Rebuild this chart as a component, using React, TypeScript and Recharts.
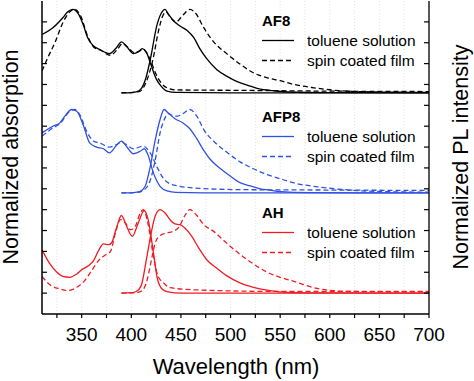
import { CartesianGrid, Line, LineChart, XAxis, YAxis } from "recharts";

type Pt = [number, number];

// panels from top to bottom
const panels = ["AF8", "AFP8", "AH"];
const legendLabels = ["toluene solution", "spin coated film"];
const colors = ["#000000", "#2f52e0", "#ee1c24"];
const offsets = [2.4, 1.2, 0];

const xTicks = [325, 350, 375, 400, 425, 450, 475, 500, 525, 550, 575, 600, 625, 650, 675, 700];
const yTicks = [0, 0.25, 0.5, 0.75, 1, 1.25, 1.5, 1.75, 2, 2.25, 2.5, 2.75, 3, 3.25];

// AF8
const af8AbsTol: Pt[] = [
  [310, 0.7], [321, 0.78], [331, 0.9], [336, 0.97], [341, 1.0], [347, 0.94], [352, 0.8], [356, 0.66],
  [362, 0.56], [368, 0.52], [378, 0.47], [385, 0.54], [390, 0.61], [395, 0.56], [402, 0.47], [407, 0.49],
  [411, 0.53], [415, 0.49], [420, 0.33], [425, 0.17], [430, 0.08], [436, 0.02], [445, 0.005], [500, 0], [700, 0],
];
const af8AbsFilm: Pt[] = [
  [310, 0.26], [315, 0.4], [323, 0.6], [331, 0.84], [338, 0.97], [343, 1.0], [349, 0.92], [356, 0.68],
  [362, 0.55], [369, 0.51], [379, 0.45], [386, 0.52], [391, 0.59], [396, 0.55], [403, 0.48], [408, 0.5],
  [412, 0.52], [416, 0.47], [420, 0.37], [425, 0.22], [430, 0.12], [436, 0.06], [445, 0.035], [500, 0.03],
  [600, 0.02], [700, 0.015],
];
const af8PlTol: Pt[] = [
  [390, 0], [400, 0.003], [405, 0.01], [410, 0.05], [415, 0.19], [420, 0.45], [425, 0.77], [430, 0.95],
  [434, 1.0], [437, 0.95], [442, 0.87], [449, 0.8], [456, 0.75], [463, 0.66], [469, 0.53], [476, 0.41],
  [486, 0.28], [496, 0.2], [504, 0.15], [510, 0.12], [520, 0.08], [530, 0.045], [540, 0.03], [557, 0.01],
  [600, 0.002], [700, 0],
];
const af8PlFilm: Pt[] = [
  [390, 0], [403, 0.005], [409, 0.02], [415, 0.13], [422, 0.41], [427, 0.72], [432, 0.93], [435, 0.97],
  [439, 0.91], [445, 0.85], [452, 0.93], [459, 1.0], [465, 0.95], [473, 0.78], [483, 0.61], [496, 0.47],
  [510, 0.34], [523, 0.24], [537, 0.18], [550, 0.145], [564, 0.1], [584, 0.06], [617, 0.02], [650, 0.01],
  [700, 0.005],
];

// AFP8
const afp8AbsTol: Pt[] = [
  [310, 0.72], [321, 0.8], [328, 0.84], [333, 0.92], [340, 1.0], [345, 0.98], [352, 0.8], [358, 0.6],
  [365, 0.55], [372, 0.53], [378, 0.48], [385, 0.57], [390, 0.62], [395, 0.56], [402, 0.47], [409, 0.5],
  [413, 0.53], [417, 0.45], [422, 0.25], [429, 0.08], [436, 0.025], [445, 0.008], [500, 0], [700, 0],
];
const afp8AbsFilm: Pt[] = [
  [310, 0.68], [321, 0.78], [328, 0.83], [338, 0.98], [343, 1.0], [348, 0.94], [355, 0.74], [362, 0.62],
  [368, 0.6], [378, 0.55], [385, 0.58], [390, 0.61], [396, 0.57], [402, 0.53], [412, 0.56], [419, 0.48],
  [426, 0.31], [432, 0.18], [439, 0.11], [449, 0.08], [469, 0.055], [510, 0.04], [600, 0.035], [700, 0.03],
];
const afp8PlTol: Pt[] = [
  [390, 0], [402, 0.005], [409, 0.02], [414, 0.08], [419, 0.31], [424, 0.63], [429, 0.88], [433, 1.0],
  [437, 0.96], [444, 0.89], [452, 0.84], [459, 0.77], [466, 0.65], [473, 0.51], [479, 0.41], [490, 0.29],
  [500, 0.2], [510, 0.12], [520, 0.085], [530, 0.05], [540, 0.035], [547, 0.02], [580, 0.003], [700, 0],
];
const afp8PlFilm: Pt[] = [
  [390, 0], [405, 0.005], [412, 0.03], [419, 0.15], [424, 0.39], [429, 0.72], [434, 0.9], [437, 0.95],
  [441, 0.93], [446, 0.92], [452, 0.95], [459, 1.0], [466, 0.92], [473, 0.76], [483, 0.62], [496, 0.49],
  [510, 0.37], [523, 0.29], [537, 0.22], [550, 0.17], [564, 0.12], [590, 0.07], [620, 0.035], [660, 0.015],
  [700, 0.01],
];

// AH
const ahAbsTol: Pt[] = [
  [310, 0.52], [318, 0.35], [325, 0.25], [331, 0.2], [338, 0.19], [345, 0.23], [350, 0.28], [357, 0.33],
  [362, 0.39], [367, 0.51], [372, 0.59], [377, 0.58], [380, 0.6], [385, 0.78], [390, 0.93], [395, 0.81],
  [401, 0.68], [407, 0.84], [413, 0.99], [417, 0.88], [422, 0.51], [426, 0.19], [431, 0.05], [437, 0.015],
  [450, 0], [700, 0],
];
const ahAbsFilm: Pt[] = [
  [310, 0.2], [318, 0.1], [328, 0.05], [336, 0.03], [345, 0.07], [353, 0.15], [360, 0.27], [367, 0.39],
  [373, 0.45], [379, 0.5], [384, 0.72], [389, 0.88], [394, 0.84], [399, 0.76], [404, 0.8], [409, 0.96],
  [412, 1.0], [417, 0.82], [422, 0.46], [427, 0.2], [432, 0.13], [439, 0.065], [463, 0.04], [550, 0.02],
  [700, 0.02],
];
const ahPlTol: Pt[] = [
  [390, 0], [400, 0.005], [405, 0.02], [410, 0.09], [415, 0.39], [420, 0.72], [424, 0.92], [429, 1.0],
  [434, 0.96], [439, 0.88], [444, 0.83], [449, 0.82], [454, 0.78], [461, 0.68], [468, 0.54], [476, 0.4],
  [486, 0.3], [496, 0.21], [510, 0.12], [523, 0.07], [540, 0.03], [557, 0.01], [600, 0.002], [700, 0],
];
const ahPlFilm: Pt[] = [
  [390, 0], [405, 0.005], [411, 0.03], [415, 0.12], [421, 0.44], [424, 0.6], [429, 0.69], [436, 0.72],
  [442, 0.74], [448, 0.79], [454, 0.93], [459, 1.0], [466, 0.93], [473, 0.82], [483, 0.74], [496, 0.6],
  [510, 0.46], [523, 0.35], [537, 0.25], [550, 0.19], [564, 0.14], [590, 0.05], [620, 0.02], [700, 0.015],
];

const curves: { panel: number; dashed: boolean; pts: Pt[] }[] = [
  { panel: 0, dashed: false, pts: af8AbsTol },
  { panel: 0, dashed: true, pts: af8AbsFilm },
  { panel: 0, dashed: false, pts: af8PlTol },
  { panel: 0, dashed: true, pts: af8PlFilm },
  { panel: 1, dashed: false, pts: afp8AbsTol },
  { panel: 1, dashed: true, pts: afp8AbsFilm },
  { panel: 1, dashed: false, pts: afp8PlTol },
  { panel: 1, dashed: true, pts: afp8PlFilm },
  { panel: 2, dashed: false, pts: ahAbsTol },
  { panel: 2, dashed: true, pts: ahAbsFilm },
  { panel: 2, dashed: false, pts: ahPlTol },
  { panel: 2, dashed: true, pts: ahPlFilm },
];

const font = "'Liberation Sans', Arial, sans-serif";
const DASH = "5 3";

const LeftTick = ({ x, y }: any) => <line x1={x} x2={x + 5} y1={y} y2={y} stroke="#000" strokeWidth={1.2} />;
const RightTick = ({ x, y }: any) => <line x1={x - 5} x2={x} y1={y} y2={y} stroke="#000" strokeWidth={1.2} />;
const TopTick = ({ x, y }: any) => <line x1={x} x2={x} y1={y} y2={y + 5} stroke="#000" strokeWidth={1.2} />;
const BottomTick = ({ x, y, payload }: any) => (
  <g>
    <line x1={x} x2={x} y1={y} y2={y + 4} stroke="#000" strokeWidth={1.2} />
    {payload.value % 50 === 0 && (
      <text x={x} y={y + 27} textAnchor="middle" fontSize={19} fontFamily={font} fill="#000">
        {payload.value}
      </text>
    )}
  </g>
);

export default function App() {
  const legendTop = 20;
  const legendStep = 96;
  return (
    <div style={{ position: "absolute", left: 0, top: 0, width: 474, height: 381, background: "#fff" }}>
      <LineChart width={474} height={381} margin={{ top: 1, right: 0, bottom: 0, left: 0 }}>
        <CartesianGrid horizontal={false} stroke="#e2e2e2" strokeDasharray="1 2" />
        <XAxis
          type="number"
          dataKey="x"
          domain={[310, 700]}
          allowDataOverflow
          ticks={xTicks}
          interval={0}
          height={67}
          tickSize={0}
          tickMargin={0}
          tickLine={false}
          tick={<BottomTick />}
          axisLine={{ stroke: "#000", strokeWidth: 1.5 }}
        />
        <XAxis
          xAxisId="top"
          orientation="top"
          type="number"
          dataKey="x"
          domain={[310, 700]}
          allowDataOverflow
          ticks={xTicks}
          interval={0}
          height={0}
          tickSize={0}
          tickMargin={0}
          tickLine={false}
          tick={<TopTick />}
          axisLine={{ stroke: "#000", strokeWidth: 1.3 }}
        />
        <YAxis
          type="number"
          domain={[-0.25, 3.5]}
          allowDataOverflow
          ticks={yTicks}
          interval={0}
          width={42}
          tickSize={0}
          tickMargin={0}
          tickLine={false}
          tick={<LeftTick />}
          axisLine={{ stroke: "#000", strokeWidth: 1.5 }}
        />
        <YAxis
          yAxisId="right"
          orientation="right"
          type="number"
          domain={[-0.25, 3.5]}
          allowDataOverflow
          ticks={yTicks}
          interval={0}
          width={45}
          tickSize={0}
          tickMargin={0}
          tickLine={false}
          tick={<RightTick />}
          axisLine={{ stroke: "#000", strokeWidth: 1.3 }}
        />
        {curves.map((c, i) => (
          <Line
            key={i}
            data={c.pts.map(([x, y]) => ({ x, y: y + offsets[c.panel] }))}
            dataKey="y"
            type="monotone"
            stroke={colors[c.panel]}
            strokeWidth={1.3}
            strokeDasharray={c.dashed ? DASH : undefined}
            dot={false}
            activeDot={false}
            isAnimationActive={false}
          />
        ))}
      </LineChart>
      <svg
        width={474}
        height={381}
        style={{ position: "absolute", left: 0, top: 0, pointerEvents: "none" }}
        fontFamily={font}
      >
        {panels.map((p, k) => {
          const y0 = legendTop + k * legendStep;
          return (
            <g key={p}>
              <text x={262} y={y0 + 5.5} fontSize={15} fontWeight="bold" fill="#000">
                {p}
              </text>
              {legendLabels.map((lab, j) => (
                <g key={lab}>
                  <line
                    x1={262}
                    x2={294}
                    y1={y0 + 20.5 + j * 20}
                    y2={y0 + 20.5 + j * 20}
                    stroke={colors[k]}
                    strokeWidth={1.3}
                    strokeDasharray={j === 1 ? DASH : undefined}
                  />
                  <text x={307} y={y0 + 26 + j * 20} fontSize={15.5} fill="#000">
                    {lab}
                  </text>
                </g>
              ))}
            </g>
          );
        })}
        <text x={236} y={374} fontSize={22} textAnchor="middle" fill="#000">
          Wavelength (nm)
        </text>
        <text
          x={11}
          y={157}
          fontSize={21.5}
          textAnchor="middle"
          dominantBaseline="central"
          transform="rotate(-90 11 157)"
          fill="#000"
        >
          Normalized absorption
        </text>
        <text
          x={461}
          y={157}
          fontSize={21.5}
          textAnchor="middle"
          dominantBaseline="central"
          transform="rotate(-90 461 157)"
          fill="#000"
        >
          Normalized PL intensity
        </text>
      </svg>
    </div>
  );
}
